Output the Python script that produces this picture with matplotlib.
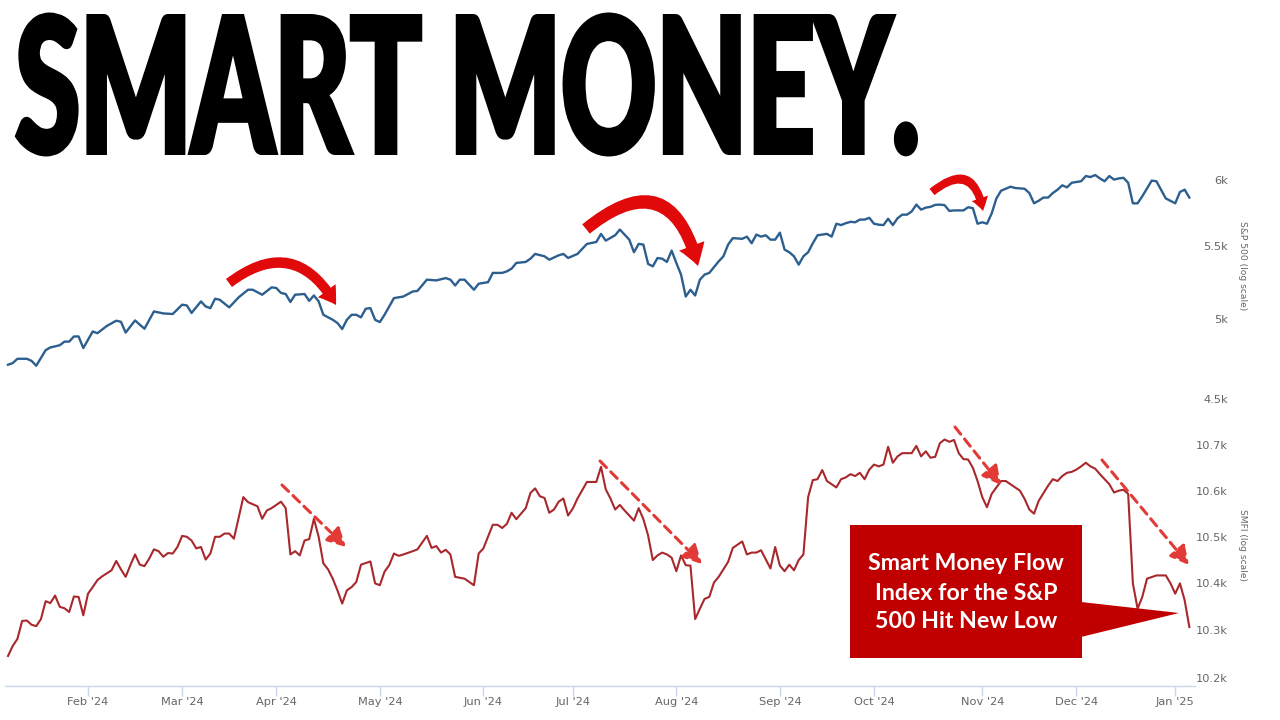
import numpy as np
import pandas as pd
import matplotlib
matplotlib.use("Agg")
import matplotlib.pyplot as plt
from matplotlib.textpath import TextPath
from matplotlib.font_manager import FontProperties
from matplotlib.patheffects import AbstractPathEffect
from matplotlib.transforms import Affine2D
from matplotlib.patches import FancyArrowPatch, Rectangle, Polygon
from matplotlib.ticker import FixedLocator, FixedFormatter, NullLocator

# ---------------- data (trading-day number since 2 Jan 2024, value) ----------------
sp500_pts = [(4,4707),(5,4717),(6,4744),(8,4744),(9,4731),(10,4701),(12,4798),(13,4815),(15,4829),(16,4852),
(17,4852),(18,4885),(19,4885),(20,4811),(22,4917),(23,4906),(25,4953),(27,4987),(28,4980),(29,4910),
(31,4989),(32,4961),(33,4935),(35,5048),(37,5035),(39,5031),(41,5093),(42,5088),(43,5038),(45,5115),
(46,5081),(47,5070),(48,5133),(49,5126),(51,5075),(53,5142),(55,5194),(56,5194),(58,5160),(60,5210),
(61,5206),(62,5172),(63,5165),(64,5111),(65,5160),(67,5165),(68,5119),(69,5155),(70,5115),(71,5026),
(73,4993),(74,4972),(75,4933),(76,4993),(77,5026),(78,5026),(79,5009),(80,5066),(81,5070),(82,4993),
(83,4978),(84,5026),(86,5137),(88,5148),(90,5182),(91,5186),(93,5263),(95,5258),(97,5274),(98,5263),
(99,5223),(100,5263),(101,5263),(102,5228),(103,5194),(104,5235),(106,5246),(107,5310),(109,5310),(110,5321),
(111,5340),(112,5380),(114,5387),(115,5410),(116,5444),(118,5427),(119,5403),(121,5434),(122,5444),(123,5415),
(125,5444),(127,5516),(129,5530),(130,5589),(131,5540),(133,5579),(134,5621),(136,5547),(137,5456),(138,5516),
(139,5511),(140,5373),(141,5356),(142,5415),(143,5410),(144,5387),(145,5468),(146,5380),(147,5298),(148,5148),
(149,5194),(150,5155),(151,5263),(152,5298),(153,5310),(155,5391),(156,5427),(157,5511),(158,5558),(160,5553),
(161,5569),(162,5521),(163,5584),(164,5569),(165,5579),(166,5547),(167,5547),(168,5598),(169,5475),(170,5456),
(171,5427),(172,5368),(173,5427),(174,5456),(175,5521),(176,5579),(178,5589),(179,5569),(180,5664),(181,5654),
(182,5668),(183,5678),(184,5675),(185,5695),(186,5695),(187,5708),(188,5664),(189,5657),(190,5654),(191,5701),
(192,5654),(193,5705),(194,5732),(195,5732),(196,5756),(197,5808),(198,5770),(199,5785),(200,5791),(201,5806),
(202,5808),(203,5804),(204,5760),(205,5764),(207,5764),(208,5788),(209,5781),(210,5664),(211,5675),(212,5664),
(213,5741),(214,5855),(215,5915),(217,5946),(218,5936),(220,5930),(221,5897),(222,5818),(223,5838),(224,5862),
(225,5862),(226,5897),(227,5923),(228,5957),(229,5941),(230,5977),(232,5989),(233,6030),(234,6022),(235,6038),
(236,6011),(237,5989),(238,6030),(239,6002),(240,6011),(241,6016),(242,5977),(243,5818),(244,5818),(245,5872),
(247,5994),(248,5989),(250,5855),(252,5818),(253,5905),(254,5923),(255,5862)]

smfi_pts = [(4,10246),(5,10267),(6,10282),(7,10320),(8,10321),(9,10312),(10,10309),(11,10324),(12,10362),(13,10358),
(14,10374),(15,10350),(16,10347),(17,10339),(18,10372),(19,10371),(20,10332),(21,10378),(22,10392),(23,10407),
(24,10415),(26,10428),(27,10448),(28,10430),(29,10414),(30,10439),(31,10462),(32,10440),(33,10437),(34,10453),
(35,10473),(36,10469),(37,10457),(38,10465),(39,10464),(40,10478),(41,10502),(42,10500),(43,10492),(44,10475),
(45,10478),(46,10451),(47,10464),(48,10500),(49,10500),(50,10507),(51,10507),(52,10496),(54,10586),(55,10575),
(57,10566),(58,10539),(59,10557),(60,10562),(61,10569),(62,10576),(63,10562),(64,10462),(65,10469),(66,10460),
(67,10492),(68,10495),(69,10539),(70,10500),(71,10443),(72,10430),(73,10410),(74,10385),(75,10357),(76,10385),
(77,10392),(78,10403),(79,10440),(81,10447),(82,10400),(83,10396),(84,10425),(85,10439),(86,10464),(87,10459),
(88,10462),(90,10469),(91,10473),(93,10502),(94,10476),(95,10480),(96,10466),(97,10472),(98,10462),(99,10414),
(101,10410),(102,10403),(103,10396),(104,10464),(105,10475),(107,10526),(108,10526),(109,10519),(110,10528),(111,10552),
(112,10538),(114,10562),(115,10595),(116,10605),(117,10588),(118,10584),(119,10552),(120,10559),(121,10576),(122,10583),
(123,10546),(124,10561),(125,10583),(127,10619),(129,10619),(130,10652),(131,10603),(132,10583),(133,10559),(134,10569),
(135,10557),(136,10546),(137,10535),(138,10562),(139,10538),(140,10503),(141,10450),(142,10460),(143,10466),(144,10462),
(145,10455),(146,10426),(147,10460),(148,10439),(149,10438),(150,10324),(151,10346),(152,10367),(153,10371),(154,10402),
(155,10414),(156,10430),(157,10446),(158,10476),(160,10490),(161,10462),(162,10466),(163,10466),(164,10471),(166,10432),
(167,10478),(168,10438),(169,10426),(170,10440),(171,10428),(172,10450),(173,10462),(174,10586),(175,10623),(176,10625),
(177,10645),(178,10621),(180,10607),(181,10625),(182,10629),(183,10636),(184,10632),(185,10639),(186,10625),(187,10646),
(188,10657),(189,10653),(190,10657),(191,10696),(192,10661),(193,10675),(194,10682),(196,10682),(197,10698),(198,10675),
(199,10686),(200,10672),(201,10674),(202,10704),(203,10712),(204,10707),(205,10711),(206,10682),(207,10669),(208,10668),
(209,10650),(210,10621),(211,10586),(212,10564),(213,10593),(215,10621),(216,10621),(217,10614),(219,10600),(220,10582),
(221,10559),(222,10550),(223,10578),(225,10611),(226,10625),(227,10621),(228,10632),(229,10639),(230,10641),(231,10646),
(232,10653),(233,10661),(234,10653),(235,10648),(236,10636),(237,10625),(238,10614),(239,10596),(240,10600),(241,10602),
(242,10593),(243,10400),(244,10346),(245,10371),(246,10410),(248,10417),(250,10417),(251,10400),(252,10378),(253,10400),
(254,10364),(255,10307)]

sp_ticks = [4500, 5000, 5500, 6000]
sp_tick_labels = ["4.5k", "5k", "5.5k", "6k"]
smfi_ticks = [10200, 10300, 10400, 10500, 10600, 10700]
smfi_tick_labels = ["10.2k", "10.3k", "10.4k", "10.5k", "10.6k", "10.7k"]

nyse_holidays = ["2024-01-15", "2024-02-19", "2024-03-29", "2024-05-27", "2024-06-19", "2024-07-04",
                 "2024-09-02", "2024-11-28", "2024-12-25", "2025-01-01", "2025-01-09"]

title_text = "SMART MONEY."
callout_lines = ["Smart Money Flow", "Index for the S&P", "500 Hit New Low"]

# ---------------- helpers ----------------
W, H = 1280, 720
DPI = 100
PT = 72.0 / DPI  # points per pixel


def fx(px):
    return px / W


def fy(py):
    return 1 - py / H


class Stretch(AbstractPathEffect):
    """Draw the text outline stretched vertically (about its baseline) and emboldened."""

    def __init__(self, sy, y0, lw):
        super().__init__()
        self.sy, self.y0, self.lw = sy, y0, lw

    def draw_path(self, renderer, gc, tpath, affine, rgbFace=None):
        aff = affine + Affine2D().translate(0, -self.y0).scale(1.0, self.sy).translate(0, self.y0)
        gc0 = renderer.new_gc()
        gc0.copy_properties(gc)
        gc0.set_linewidth(self.lw)
        gc0.set_foreground("black")
        gc0.set_joinstyle("miter")
        renderer.draw_path(gc0, tpath, aff, rgbFace)
        gc0.restore()


days = pd.bdate_range("2024-01-02", "2025-01-31")
days = days[~days.isin(pd.to_datetime(nyse_holidays))]
month_idx = [i for i in range(1, len(days)) if days[i].month != days[i - 1].month and i < 256]
month_lbl = [days[i].strftime("%b '%y") for i in month_idx]

sp_day = [p[0] for p in sp500_pts]
sp_val = [p[1] for p in sp500_pts]
sm_day = [p[0] for p in smfi_pts]
sm_val = [p[1] for p in smfi_pts]

GREY = "#666666"
AXIS = "#ccd6eb"

fig = plt.figure(figsize=(W / DPI, H / DPI), dpi=DPI)
fig.patch.set_facecolor("white")

XL = (3.363, 256.2)

# ---------------- top panel: S&P 500 ----------------
ax1 = fig.add_axes([fx(5), fy(399), fx(1195) - fx(5), fy(165) - fy(399)])
ax1.plot(sp_day, sp_val, color="#2d5f8e", lw=1.7, solid_joinstyle="round")
ax1.set_yscale("log")
ax1.set_ylim(4500, 6118)
ax1.set_xlim(*XL)

# ---------------- bottom panel: SMFI ----------------
ax2 = fig.add_axes([fx(5), fy(686), fx(1195) - fx(5), fy(425) - fy(686)])
ax2.plot(sm_day, sm_val, color="#a8282c", lw=1.5, solid_joinstyle="round")
ax2.set_yscale("log")
ax2.set_ylim(10183, 10744)
ax2.set_xlim(*XL)

for ax, ticks, labels in ((ax1, sp_ticks, sp_tick_labels), (ax2, smfi_ticks, smfi_tick_labels)):
    ax.patch.set_alpha(0)
    for s in ("top", "left", "right", "bottom"):
        ax.spines[s].set_visible(False)
    ax.yaxis.tick_right()
    ax.yaxis.set_major_locator(FixedLocator(ticks))
    ax.yaxis.set_major_formatter(FixedFormatter(labels))
    ax.yaxis.set_minor_locator(NullLocator())
    ax.tick_params(axis="y", which="both", length=0, labelsize=8.2, labelcolor=GREY, pad=33 * PT)
    for t in ax.get_yticklabels():
        t.set_horizontalalignment("right")

ax1.set_xticks([])
ax2.spines["bottom"].set_visible(True)
ax2.spines["bottom"].set_color(AXIS)
ax2.spines["bottom"].set_linewidth(1.0)
ax2.set_xticks(month_idx)
ax2.set_xticklabels(month_lbl)
ax2.xaxis.set_minor_locator(NullLocator())
ax2.tick_params(axis="x", length=10 * PT, width=1, color=AXIS, labelsize=8.2, labelcolor=GREY, pad=1)

fig.text(fx(1243), fy(266), "S&P 500 (log scale)", rotation=270, ha="center", va="center",
         fontsize=6.6, color=GREY)
fig.text(fx(1243), fy(545), "SMFI (log scale)", rotation=270, ha="center", va="center",
         fontsize=6.6, color=GREY)

# ---------------- overlay (annotations in pixel space) ----------------
ov = fig.add_axes([0, 0, 1, 1], zorder=5)
ov.set_xlim(0, W)
ov.set_ylim(H, 0)
ov.axis("off")
ov.patch.set_alpha(0)

RED = "#e00a0a"


def curved(tail, tip, rad, tw, hw, hl):
    p = FancyArrowPatch(tail, tip, connectionstyle=f"arc3,rad={rad}",
                        arrowstyle=f"simple,head_length={hl},head_width={hw},tail_width={tw}",
                        mutation_scale=PT, color=RED, lw=0, shrinkA=0, shrinkB=0)
    ov.add_patch(p)


curved((229, 283), (336, 305), -0.57, 10, 22, 17)
curved((586, 229), (698, 266), -0.78, 12, 27, 21)
curved((932, 192), (983, 211), -0.84, 8, 17, 13)

DRED = "#e23a36"


def dashed(start, tip):
    ov.annotate("", xy=tip, xytext=start,
                arrowprops=dict(arrowstyle="-|>,head_length=0.8,head_width=0.42", linestyle=(0, (3, 2)),
                                lw=2.2, color=DRED, shrinkA=0, shrinkB=0, mutation_scale=14))


dashed((282, 485), (346, 547))
dashed((600, 461), (702, 564))
dashed((955, 427), (1001, 485))
dashed((1102, 460), (1189, 565))

# callout box
BOX = "#c00000"
ov.add_patch(Rectangle((850, 525), 232, 133, facecolor=BOX, edgecolor="none"))
ov.add_patch(Polygon([(1081, 602), (1081, 637), (1179, 613)], closed=True, facecolor=BOX, edgecolor="none"))
fp_call = FontProperties(family="Lato", weight="bold")
w1 = TextPath((0, 0), callout_lines[0], size=100, prop=fp_call).get_extents().width
fs_call = 195 * 72 / (w1 / 100 * DPI)
for yy, line in zip((563, 593, 622), callout_lines):
    ov.text(966, yy, line, ha="center", va="center", color="white", fontproperties=fp_call, fontsize=fs_call)

# ---------------- title (heavy condensed look: tall stretch of Lato Black) ----------------
fp_title = FontProperties(family="Lato", weight="black")
ext = TextPath((0, 0), title_text, size=100, prop=fp_title).get_extents()
capH = TextPath((0, 0), "H", size=100, prop=fp_title).get_extents().height
lw_px = 5.0
top_px, base_px, left_px, right_px = 14, 155, 15, 918
fs_title = ((right_px - left_px) - lw_px) * 72 / (ext.width / 100 * DPI)
cap_px = capH / 100 * fs_title / 72 * DPI
sy = ((base_px - top_px) - lw_px) / cap_px
xmin_px = ext.x0 / 100 * fs_title / 72 * DPI
X = left_px + lw_px / 2 - xmin_px
base_y = base_px - lw_px / 2
fig.text(fx(X), fy(base_y), title_text, fontproperties=fp_title, fontsize=fs_title,
         ha="left", va="baseline", color="black",
         path_effects=[Stretch(sy, H - base_y, lw_px * PT)])

fig.savefig("out.png", dpi=DPI)
